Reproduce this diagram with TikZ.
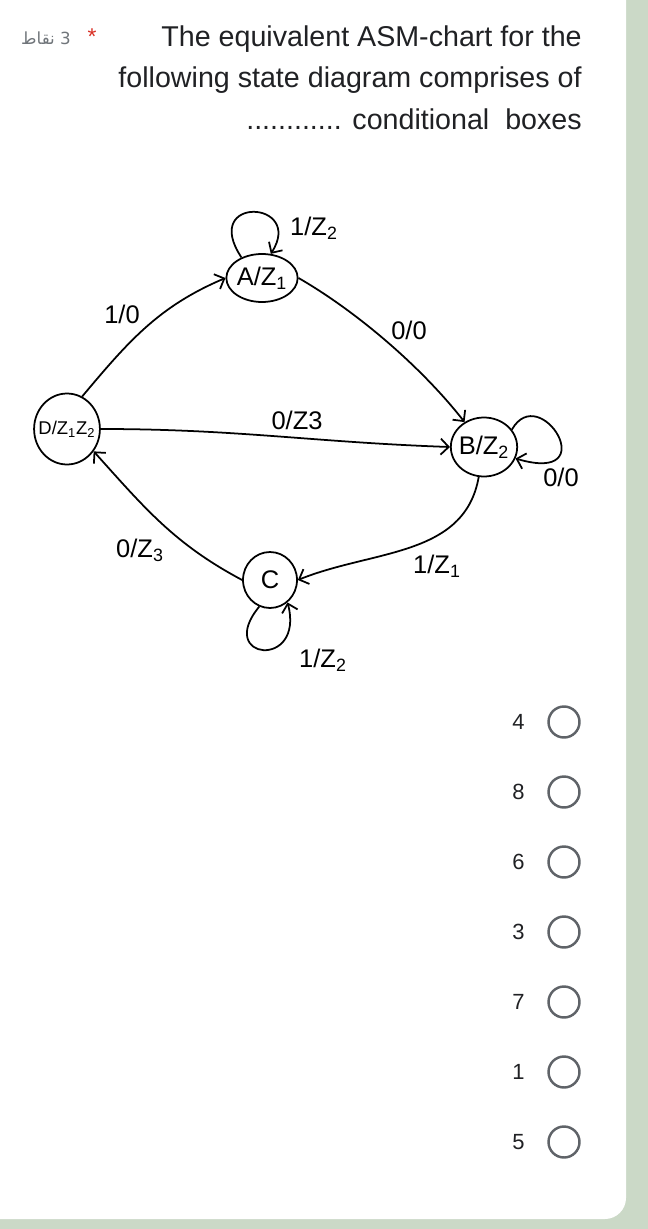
\documentclass[tikz,border=0pt]{standalone}
\usepackage{fontspec}
\setmainfont{Liberation Sans}
\newfontfamily\arabicfont[Script=Arabic]{DejaVu Sans}
\TeXXeTstate=1
\usetikzlibrary{positioning, shapes, arrows, arrows.meta}
\definecolor{sidebar}{HTML}{CBD9C7}
\definecolor{radio}{HTML}{5F6368}
\definecolor{hint}{HTML}{70757A}
\definecolor{ink}{HTML}{202124}
\definecolor{star}{HTML}{D93025}

\begin{document}
\begin{tikzpicture}[x=0.02cm, y=0.02cm,
	state/.style={draw, ellipse, line width=1pt, inner sep=0pt, font=\fontsize{14.5}{16}\selectfont},
	trans/.style={-{Straight Barb[length=1.6mm, width=3.2mm]}, line width=1pt},
	lbl/.style={font=\fontsize{14.5}{16}\selectfont},
	question/.style={anchor=base east, inner sep=0pt, text=ink, font=\fontsize{16.3}{19}\selectfont},
	choice/.style={text=ink, font=\fontsize{12.5}{14}\selectfont},
	radiobtn/.style={draw=radio, circle, line width=1.4pt, minimum size=0.62cm, inner sep=0pt}]
			% page and frame
			\useasboundingbox (0, 0) rectangle (648, -1229);
			\fill[sidebar] (0, 0) rectangle (648, -1229);
			\fill[white, rounded corners=12] (-40, 40) rectangle (626, -1219);
			% question header
			\node[anchor=base, text=hint, font=\fontsize{9.5}{11}\selectfont] (points) at (46, -45) {\arabicfont\beginR 3 نقاط\endR};
			\node[anchor=base, text=star, font=\fontsize{13}{15}\selectfont] (req) at (92, -45) {*};
			\node[question] (line1) at (582, -47) {The equivalent ASM-chart for the};
			\node[question] (line2) at (582, -88) {following state diagram comprises of};
			\node[question] (line3) at (582, -130) {............ conditional\ \ boxes};
			% states
			\node[state, minimum width=1.36cm, minimum height=0.96cm] (A) at (262, -278) {A/Z\textsubscript{1}};
			\node[state, minimum width=1.26cm, minimum height=1.42cm, inner sep=-3pt, font=\fontsize{10.5}{12}\selectfont] (D) at (67, -429) {D/Z\textsubscript{1}Z\textsubscript{2}};
			\node[state, minimum width=1.16cm, minimum height=1.18cm, inner sep=-1pt] (B) at (484, -447) {B/Z\textsubscript{2}};
			\node[state, minimum width=1.08cm, minimum height=1.12cm] (C) at (270, -580) {C};
			% transitions
			\draw[trans] (D.65) to[out=50, in=203] (A.west);
			\draw[trans] (A.east) to[out=-30, in=128, looseness=0.8] (B.128);
			\draw[trans] (D.east) to[out=0, in=178] (B.west);
			\draw[trans] (B.-100) to[out=-100, in=22] (C.east);
			\draw[trans] (C.west) to[out=152, in=-48] (D.-40);
			\draw[trans] (A.135) .. controls (200, -195) and (305, -200) .. (A.70);
			\draw[trans] (B.32) .. controls (540, -380) and (605, -485) .. (B.-20);
			\draw[trans] (C.248) .. controls (215, -660) and (305, -670) .. (C.-52);
			% transition labels
			\node[lbl] (lda) at (122, -314) {1/0};
			\node[lbl] (laa) at (314, -228) {1/Z\textsubscript{2}};
			\node[lbl] (lab) at (409, -330) {0/0};
			\node[lbl] (ldb) at (297, -420) {0/Z3};
			\node[lbl] (lbb) at (561, -477) {0/0};
			\node[lbl] (lbc) at (437, -566) {1/Z\textsubscript{1}};
			\node[lbl] (lcd) at (140, -550) {0/Z\textsubscript{3}};
			\node[lbl] (lcc) at (323, -660) {1/Z\textsubscript{2}};
			% answer choices
			\foreach \val [count=\i] in {4, 8, 6, 3, 7, 1, 5} {
				\node[radiobtn] (opt\i) at (564, -722-70*\i+70) {};
				\node[choice, left=0.33cm of opt\i] (num\i) {\val};
			}
		\end{tikzpicture}
\end{document}
